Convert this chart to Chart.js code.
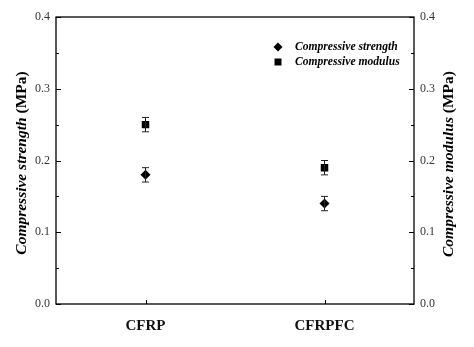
<!DOCTYPE html>
<html>
<head>
<meta charset="utf-8">
<title>Compressive strength and modulus</title>
<script src="https://cdn.jsdelivr.net/npm/chart.js@4.4.1/dist/chart.umd.min.js"></script>
<style>
  html, body { margin: 0; padding: 0; background: #ffffff; }
  #wrap { width: 474px; height: 347px; }
</style>
</head>
<body>
<div id="wrap"><canvas id="chart" width="474" height="347"></canvas></div>
<script>
// Specimen groups on the x axis
const categories = ['CFRP', 'CFRPFC'];

// Compressive strength (MPa) and its error
const strength = [0.18, 0.14];
const strengthErr = [0.01, 0.01];

// Compressive modulus (MPa) and its error
const modulus = [0.25, 0.19];
const modulusErr = [0.01, 0.01];

// Axis ticks shared by both y axes
const yTicks = [0.0, 0.1, 0.2, 0.3, 0.4];
const yMinorTicks = [0.05, 0.15, 0.25, 0.35];

const SERIF = '"Liberation Serif", "Times New Roman", serif';

// Error bars drawn from the error arrays through the dataset's y scale
const errorBars = {
  id: 'errorBars',
  afterDatasetsDraw(chart) {
    const ctx = chart.ctx;
    const x = chart.scales.x;
    chart.data.datasets.forEach((ds) => {
      const ys = chart.scales[ds.yAxisID];
      ds.data.forEach((v, i) => {
        const e = ds.errors[i];
        const px = x.getPixelForValue(i);
        const top = ys.getPixelForValue(v + e);
        const bot = ys.getPixelForValue(v - e);
        ctx.save();
        ctx.strokeStyle = '#222';
        ctx.lineWidth = 1;
        ctx.beginPath();
        ctx.moveTo(px, top); ctx.lineTo(px, bot);
        ctx.moveTo(px - 3.5, top); ctx.lineTo(px + 3.5, top);
        ctx.moveTo(px - 3.5, bot); ctx.lineTo(px + 3.5, bot);
        ctx.stroke();
        ctx.restore();
      });
    });
  }
};

// Frame with inward major and minor ticks
const frame = {
  id: 'frame',
  beforeDatasetsDraw(chart) {
    const ctx = chart.ctx;
    const a = chart.chartArea;
    const yl = chart.scales.y, yr = chart.scales.y2, x = chart.scales.x;
    ctx.save();
    ctx.strokeStyle = '#000';
    ctx.lineWidth = 1.3;
    ctx.strokeRect(a.left, a.top, a.right - a.left, a.bottom - a.top);
    ctx.lineWidth = 1;
    ctx.beginPath();
    yTicks.forEach((t) => {
      const py = Math.round(yl.getPixelForValue(t)) + 0.5;
      ctx.moveTo(a.left, py); ctx.lineTo(a.left + 5, py);
      const pr = Math.round(yr.getPixelForValue(t)) + 0.5;
      ctx.moveTo(a.right, pr); ctx.lineTo(a.right - 5, pr);
    });
    yMinorTicks.forEach((t) => {
      const py = Math.round(yl.getPixelForValue(t)) + 0.5;
      ctx.moveTo(a.left, py); ctx.lineTo(a.left + 3, py);
      const pr = Math.round(yr.getPixelForValue(t)) + 0.5;
      ctx.moveTo(a.right, pr); ctx.lineTo(a.right - 3, pr);
    });
    categories.forEach((c, i) => {
      const px = Math.round(x.getPixelForValue(i)) + 0.5;
      ctx.moveTo(px, a.bottom); ctx.lineTo(px, a.bottom - 4);
    });
    ctx.stroke();
    ctx.restore();
  }
};

// Axis titles with an italic quantity and upright unit, plus the inset legend
function drawTitle(ctx, cx, cy, italicPart, plainPart) {
  ctx.save();
  ctx.translate(cx, cy);
  ctx.rotate(-Math.PI / 2);
  ctx.fillStyle = '#000';
  ctx.textBaseline = 'middle';
  const fi = 'bold italic 15.5px ' + SERIF;
  const fp = 'bold 15.5px ' + SERIF;
  ctx.font = fi; const w1 = ctx.measureText(italicPart).width;
  ctx.font = fp; const w2 = ctx.measureText(plainPart).width;
  let sx = -(w1 + w2) / 2;
  ctx.font = fi; ctx.textAlign = 'left'; ctx.fillText(italicPart, sx, 0);
  ctx.font = fp; ctx.fillText(plainPart, sx + w1, 0);
  ctx.restore();
}

const annotations = {
  id: 'annotations',
  afterDraw(chart) {
    const ctx = chart.ctx;
    drawTitle(ctx, 22, 163, 'Compressive strength ', '(MPa)');
    drawTitle(ctx, 449, 164, 'Compressive modulus ', '(MPa)');

    // legend
    const rows = [47, 62];
    chart.data.datasets.forEach((ds, i) => {
      const y = rows[i];
      const mx = 278;
      ctx.save();
      ctx.fillStyle = '#000';
      ctx.beginPath();
      if (ds.pointStyle === 'rectRot') {
        ctx.moveTo(mx, y - 4.5); ctx.lineTo(mx + 4.5, y);
        ctx.lineTo(mx, y + 4.5); ctx.lineTo(mx - 4.5, y);
        ctx.closePath();
      } else {
        ctx.rect(mx - 3.5, y - 3.5, 7, 7);
      }
      ctx.fill();
      ctx.font = 'bold italic 11.6px ' + SERIF;
      ctx.textBaseline = 'middle';
      ctx.textAlign = 'left';
      ctx.fillText(ds.label, 295, y);
      ctx.restore();
    });
  }
};

new Chart(document.getElementById('chart'), {
  type: 'line',
  data: {
    labels: categories,
    datasets: [
      {
        label: 'Compressive strength',
        data: strength,
        errors: strengthErr,
        yAxisID: 'y',
        showLine: false,
        pointStyle: 'rectRot',
        pointRadius: 5,
        pointHoverRadius: 5,
        backgroundColor: '#000',
        borderColor: '#000',
        borderWidth: 0
      },
      {
        label: 'Compressive modulus',
        data: modulus,
        errors: modulusErr,
        yAxisID: 'y2',
        showLine: false,
        pointStyle: 'rect',
        pointRadius: 5.3,
        pointHoverRadius: 5.3,
        backgroundColor: '#000',
        borderColor: '#000',
        borderWidth: 0
      }
    ]
  },
  options: {
    responsive: false,
    animation: false,
    events: [],
    layout: { padding: { top: 17, left: 0, right: 0, bottom: 0 } },
    plugins: { legend: { display: false }, tooltip: { enabled: false } },
    scales: {
      x: {
        type: 'category',
        offset: true,
        grid: { display: false, drawTicks: false },
        border: { display: false },
        ticks: {
          color: '#111',
          padding: 13,
          font: { family: SERIF, size: 15, weight: 'bold' }
        },
        afterFit(s) { s.height = 43; }
      },
      y: {
        position: 'left',
        min: 0, max: 0.4,
        afterBuildTicks(s) { s.ticks = yTicks.map(v => ({ value: v })); },
        grid: { display: false, drawTicks: false },
        border: { display: false },
        ticks: {
          color: '#333',
          padding: 6,
          font: { family: SERIF, size: 12 },
          callback: (v) => Number(v).toFixed(1)
        },
        afterFit(s) { s.width = 56; }
      },
      y2: {
        position: 'right',
        min: 0, max: 0.4,
        afterBuildTicks(s) { s.ticks = yTicks.map(v => ({ value: v })); },
        grid: { display: false, drawTicks: false },
        border: { display: false },
        ticks: {
          color: '#333',
          padding: 6,
          font: { family: SERIF, size: 12 },
          callback: (v) => Number(v).toFixed(1)
        },
        afterFit(s) { s.width = 60; }
      }
    }
  },
  plugins: [frame, errorBars, annotations]
});
</script>
</body>
</html>
